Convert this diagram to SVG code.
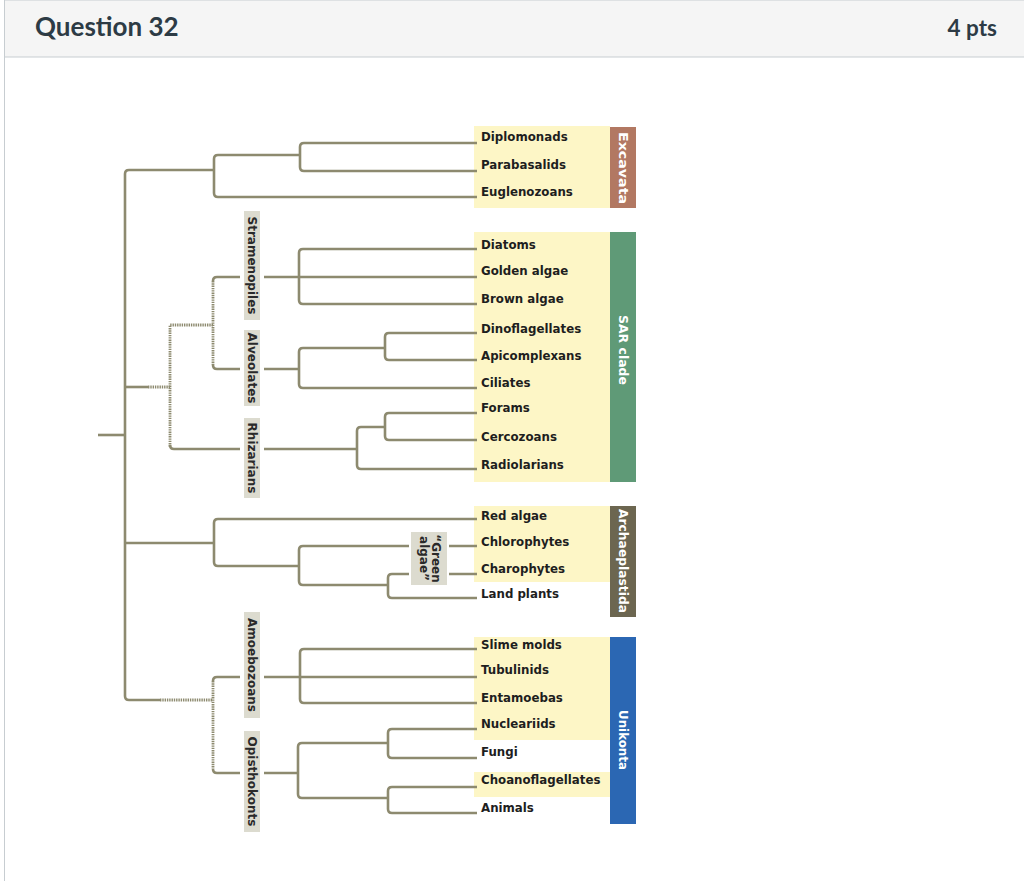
<svg xmlns="http://www.w3.org/2000/svg" width="1024" height="881" viewBox="0 0 1024 881">
<style>
.br{fill:none;stroke:#8d8a6f;stroke-width:2.6;stroke-linecap:butt}
.dot{fill:none;stroke:#8d8a6f;stroke-width:2.8;stroke-dasharray:1.4 0.9}
.tx{font-family:"DejaVu Sans",sans-serif;font-weight:bold;font-size:11.8px;fill:#1e1e1e}
.lb{fill:#dcdbcf;stroke:#ffffff;stroke-width:4}
.lt{font-family:"DejaVu Sans",sans-serif;font-weight:bold;font-size:12px;fill:#2a2a2a}
.bt{font-family:"DejaVu Sans",sans-serif;font-weight:bold;font-size:12px;fill:#ffffff}
.yl{fill:#fdf6c6}
</style>
<rect x="0" y="0" width="1024" height="881" fill="#ffffff"/>
<g id="header">
<rect x="4.5" y="0" width="1030" height="57" fill="#f5f5f5" stroke="#c7cdd1" stroke-width="1"/>
<text x="35" y="36" font-family="Lato, sans-serif" font-weight="bold" font-size="26" fill="#2d3b45">Question 32</text>
<text x="997" y="36" text-anchor="end" font-family="Lato, sans-serif" font-weight="bold" font-size="22.5" fill="#2d3b45">4 pts</text>
</g>
<line x1="4.5" y1="57" x2="4.5" y2="881" stroke="#c7cdd1" stroke-width="1"/>

<g id="highlights">
<rect class="yl" x="474" y="126" width="136" height="82"/>
<rect class="yl" x="474" y="232" width="136" height="250"/>
<rect class="yl" x="474" y="506" width="136" height="76"/>
<rect class="yl" x="474" y="637" width="136" height="103"/>
<rect class="yl" x="474" y="772" width="136" height="25"/>
</g>

<g id="connectors">
<!-- root and trunk -->
<path class="br" d="M98,435 H125"/>
<path class="br" d="M214,170 H129 Q125,170 125,174 V696 Q125,700 129,700 H160"/>
<path class="dot" d="M160,700 H213"/>
<!-- Excavata -->
<path class="br" d="M300,155 H218 Q214,155 214,159 V193 Q214,197 218,197 H477"/>
<path class="br" d="M477,143 H304 Q300,143 300,147 V167 Q300,171 304,171 H477"/>
<!-- SAR -->
<path class="br" d="M125,387 H148"/>
<path class="dot" d="M148,387 H170"/>
<path class="dot" d="M213,325 H170 V447"/>
<path class="br" d="M170,445 Q170,449 174,449 H357"/>
<path class="dot" d="M213,281 V365"/>
<path class="br" d="M240,277 H217 Q213,277 213,281"/>
<path class="br" d="M213,365 Q213,369 217,369 H299"/>
<path class="br" d="M240,277 H477"/>
<path class="br" d="M477,249 H303 Q299,249 299,253 V300 Q299,304 303,304 H477"/>
<path class="br" d="M385,348 H303 Q299,348 299,352 V384 Q299,388 303,388 H477"/>
<path class="br" d="M477,333 H389 Q385,333 385,337 V356 Q385,360 389,360 H477"/>
<path class="br" d="M385,427 H361 Q357,427 357,431 V465 Q357,469 361,469 H477"/>
<path class="br" d="M477,413 H389 Q385,413 385,417 V436 Q385,440 389,440 H477"/>
<!-- Archaeplastida -->
<path class="br" d="M125,543 H214"/>
<path class="br" d="M477,519 H218 Q214,519 214,523 V562 Q214,566 218,566 H299"/>
<path class="br" d="M477,546 H303 Q299,546 299,550 V581 Q299,585 303,585 H388"/>
<path class="br" d="M477,574 H392 Q388,574 388,578 V594 Q388,598 392,598 H477"/>
<!-- Unikonta -->
<path class="dot" d="M213,681 V769"/>
<path class="br" d="M213,681 Q213,677 217,677 H477"/>
<path class="br" d="M213,769 Q213,773 217,773 H298"/>
<path class="br" d="M477,649 H304 Q300,649 300,653 V699 Q300,703 304,703 H477"/>
<path class="br" d="M388,743 H302 Q298,743 298,747 V794 Q298,798 302,798 H388"/>
<path class="br" d="M477,729 H392 Q388,729 388,733 V754 Q388,758 392,758 H477"/>
<path class="br" d="M477,787 H392 Q388,787 388,791 V809 Q388,813 392,813 H477"/>
</g>

<g id="group-labels">
<g id="stramenopiles"><rect class="lb" x="242" y="209" width="20" height="113"/><text class="lt" transform="translate(252,265.5) rotate(90)" text-anchor="middle" dominant-baseline="central">Stramenopiles</text></g>
<g id="alveolates"><rect class="lb" x="242" y="328" width="20" height="80"/><text class="lt" transform="translate(252,368) rotate(90)" text-anchor="middle" dominant-baseline="central">Alveolates</text></g>
<g id="rhizarians"><rect class="lb" x="242" y="416" width="20" height="84"/><text class="lt" transform="translate(252,458) rotate(90)" text-anchor="middle" dominant-baseline="central">Rhizarians</text></g>
<g id="amoebozoans"><rect class="lb" x="242" y="610" width="20" height="110"/><text class="lt" transform="translate(252,665) rotate(90)" text-anchor="middle" dominant-baseline="central">Amoebozoans</text></g>
<g id="opisthokonts"><rect class="lb" x="242" y="729" width="20" height="105"/><text class="lt" transform="translate(252,781.5) rotate(90)" text-anchor="middle" dominant-baseline="central">Opisthokonts</text></g>
<g id="green-algae"><rect class="lb" x="411" y="532" width="36" height="53" stroke-width="6"/><rect x="411" y="532" width="36" height="53" fill="#dcdbcf"/>
<text class="lt" font-size="10.5" transform="translate(429,558.5) rotate(90)" text-anchor="middle"><tspan x="0" dy="-2.5">“Green</tspan><tspan x="0" dy="12">algae”</tspan></text></g>
</g>

<g id="taxa">
<text class="tx" x="481" y="141">Diplomonads</text>
<text class="tx" x="481" y="169">Parabasalids</text>
<text class="tx" x="481" y="196">Euglenozoans</text>
<text class="tx" x="481" y="249">Diatoms</text>
<text class="tx" x="481" y="275">Golden algae</text>
<text class="tx" x="481" y="303">Brown algae</text>
<text class="tx" x="481" y="333">Dinoflagellates</text>
<text class="tx" x="481" y="360">Apicomplexans</text>
<text class="tx" x="481" y="387">Ciliates</text>
<text class="tx" x="481" y="412">Forams</text>
<text class="tx" x="481" y="441">Cercozoans</text>
<text class="tx" x="481" y="469">Radiolarians</text>
<text class="tx" x="481" y="520">Red algae</text>
<text class="tx" x="481" y="546">Chlorophytes</text>
<text class="tx" x="481" y="573">Charophytes</text>
<text class="tx" x="481" y="598">Land plants</text>
<text class="tx" x="481" y="649">Slime molds</text>
<text class="tx" x="481" y="674">Tubulinids</text>
<text class="tx" x="481" y="702">Entamoebas</text>
<text class="tx" x="481" y="728">Nucleariids</text>
<text class="tx" x="481" y="756">Fungi</text>
<text class="tx" x="481" y="784">Choanoflagellates</text>
<text class="tx" x="481" y="812">Animals</text>
</g>

<g id="clades">
<g id="excavata"><rect x="610" y="127" width="26" height="81" fill="#b27862"/><text class="bt" transform="translate(623,168) rotate(90)" text-anchor="middle" dominant-baseline="central" textLength="72" lengthAdjust="spacingAndGlyphs">Excavata</text></g>
<g id="sar"><rect x="610" y="232" width="26" height="250" fill="#5f9a77"/><text class="bt" transform="translate(623,350) rotate(90)" text-anchor="middle" dominant-baseline="central" textLength="70" lengthAdjust="spacingAndGlyphs">SAR clade</text></g>
<g id="archaeplastida"><rect x="610" y="506" width="26" height="111" fill="#6c6650"/><text class="bt" transform="translate(623,561) rotate(90)" text-anchor="middle" dominant-baseline="central" textLength="104" lengthAdjust="spacingAndGlyphs">Archaeplastida</text></g>
<g id="unikonta"><rect x="610" y="637" width="26" height="187" fill="#2b67b3"/><text class="bt" transform="translate(623,740) rotate(90)" text-anchor="middle" dominant-baseline="central" textLength="60" lengthAdjust="spacingAndGlyphs">Unikonta</text></g>
</g>
</svg>
